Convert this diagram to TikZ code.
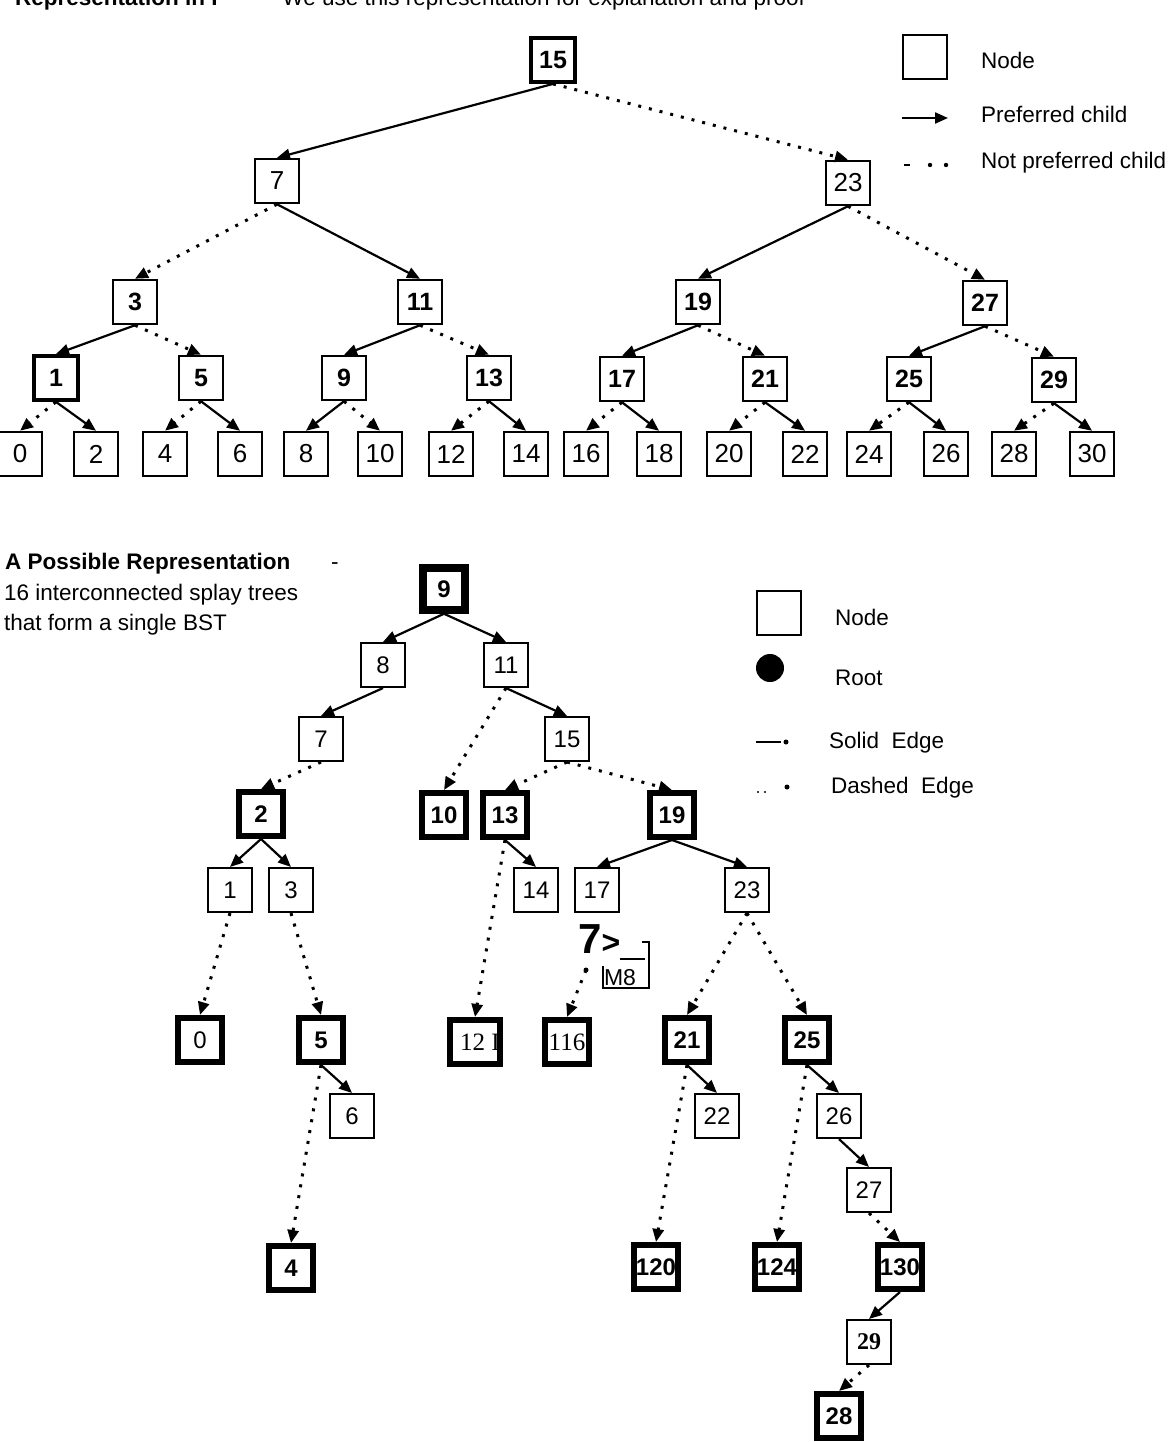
\documentclass[tikz,border=0pt]{standalone}
\usepackage{fontspec}
\setmainfont{Liberation Sans}
\newfontfamily\numserif{Liberation Serif}
\usetikzlibrary{arrows.meta}

\begin{document}
\begin{tikzpicture}
	[x=1pt,y=-1pt,
	every node/.style={inner sep=0pt},
	txt/.style={anchor=base west,font=\fontsize{22.5}{26}\selectfont},
	topnode/.style={draw,line width=2.5pt,minimum size=44pt,font=\fontsize{26}{30}\selectfont},
	topbold/.style={topnode,font=\fontsize{25}{30}\selectfont\bfseries},
	plainnode/.style={draw,line width=1.6pt,minimum size=44.5pt,font=\fontsize{24}{28}\selectfont},
	rootnode/.style={draw,line width=6pt,minimum size=44pt,font=\fontsize{24}{28}\selectfont\bfseries},
	pref/.style={line width=2.2pt,-{Triangle[length=13pt,width=11pt]}},
	npref/.style={line width=3pt,dash pattern=on 3pt off 8pt,-{Triangle[length=13pt,width=11pt]}}]
	\useasboundingbox (0,0) rectangle (1170,1442);

	\node[txt] (head) at (15,6) {\textbf{Representation in P}\hspace{56pt}We use this representation for explanation and proof};

	% top tree
	\node[topbold,line width=3.8pt] (t15) at (553,60) {15};
	\node[topbold,line width=3.8pt] (t1) at (56,378) {1};
	\foreach \n/\x/\y in {7/277/181,23/848/183,0/20/454,2/96/454,4/165/454,6/240/454,8/306/454,10/380/454,12/451/454,14/526/454,16/586/454,18/659/454,20/729/454,22/805/454,24/869/454,26/946/454,28/1014/454,30/1092/454}
		\node[topnode] (t\n) at (\x,\y) {\n};
	\foreach \n/\x/\y in {3/135/302,11/420/302,19/698/302,27/985/303,5/201/378,9/344/378,13/489/378,17/622/379,21/765/379,25/909/379,29/1054/380}
		\node[topbold] (t\n) at (\x,\y) {\n};

	\foreach \a/\b in {15/7,7/11,23/19,3/1,11/9,19/17,27/25,1/2,5/6,9/8,13/14,17/18,21/22,25/26,29/30}
		\draw[pref] (t\a.south) -- (t\b.north);
	\foreach \a/\b in {15/23,7/3,23/27,3/5,11/13,19/21,27/29,1/0,5/4,9/10,13/12,17/16,21/20,25/24,29/28}
		\draw[npref] (t\a.south) -- (t\b.north);

	% top legend
	\node[topnode] (lnode) at (925,57) {};
	\node[txt] (lnodetxt) at (981,69) {Node};
	\coordinate (pa) at (902,118);
	\coordinate (pb) at (948,118);
	\draw[pref] (pa) -- (pb);
	\node[txt] (lpref) at (981,123) {Preferred child};
	\draw[line width=1.5pt] (904,165) -- (910,165);
	\foreach \x in {930,946}
		\fill (\x,165) circle (2.2pt);
	\node[txt] (lnpref) at (981,169) {Not preferred child};

	\node[txt] (btitle) at (5,569) {\textbf{A Possible Representation}};
	\node[txt] (bdash) at (331,569) {-};
	\node[txt] (bline1) at (4,600) {16 interconnected splay trees};
	\node[txt] (bline2) at (4,630) {that form a single BST};

	% bottom tree
	\node[rootnode,line width=7.5pt,minimum size=42pt] (b9) at (444,589) {9};
	\foreach \n/\x/\y in {2/261/814,10/444/815,13/505/815,19/672/815,5/321/1040,21/687/1040,25/807/1040,4/291/1268,28/839/1416}
		\node[rootnode] (b\n) at (\x,\y) {\n};
	\node[rootnode,font=\fontsize{24}{28}\selectfont] (b0) at (200,1040) {0};
	\node[rootnode,font=\fontsize{25}{28}\selectfont\numserif] (b12) at (475,1042) {\hspace*{10pt}12 I};
	\node[rootnode,font=\fontsize{25}{28}\selectfont\numserif] (b16) at (567,1042) {116};
	\foreach \n/\x in {20/656,24/777,30/900}
		\node[rootnode] (b\n) at (\x,1267) {1\n};
	\foreach \n/\x/\y in {8/383/665,11/506/665,7/321/739,15/567/739,1/230/890,3/291/890,14/536/890,17/597/890,23/747/890,6/352/1116,22/717/1116,26/839/1116,27/869/1190}
		\node[plainnode] (b\n) at (\x,\y) {\n};
	\node[plainnode,font=\fontsize{24}{28}\selectfont\numserif\bfseries] (b29) at (869,1342) {29};

	\node[anchor=base west,font=\fontsize{42}{46}\selectfont\bfseries] (art) at (578,953) {7\fontsize{32}{34}\selectfont>};
	\node[anchor=base,font=\fontsize{23}{26}\selectfont] (m8) at (620,985) {M8};
	\draw[line width=1.2pt] (603,966) |- (649,988) |- (642,942);
	\draw[line width=1.5pt] (620,959) -- (645,959);
	\coordinate (m8dot) at (586,970);
	\fill (m8dot) circle (2.5pt);

	\foreach \a/\b in {9/8,9/11,8/7,11/15,2/1,2/3,13/14,19/17,19/23,5/6,21/22,25/26,26/27,30/29}
		\draw[pref] (b\a.south) -- (b\b.north);
	\foreach \a/\b in {11/10,7/2,15/13,15/19,1/0,3/5,13/12,23/21,23/25,5/4,21/20,25/24,27/30,29/28}
		\draw[npref] (b\a.south) -- (b\b.north);
	\draw[npref] (m8dot) -- (b16.north);

	% bottom legend
	\node[plainnode] (lbnode) at (779,613) {};
	\node[txt] (lbnodetxt) at (835,625) {Node};
	\node[circle,fill,minimum size=28pt] (lroot) at (770,668) {};
	\node[txt] (lroottxt) at (835,685) {Root};
	\coordinate (sa) at (756,742);
	\coordinate (sb) at (781,742);
	\draw[line width=1.3pt] (sa) -- (sb);
	\fill (786,742) circle (2.5pt);
	\node[txt] (lsolid) at (829,748) {Solid\ \ Edge};
	\fill (758,792) circle (1.2pt);
	\fill (765,792) circle (1.2pt);
	\fill (787,787) circle (2.5pt);
	\node[txt] (ldashed) at (831,793) {Dashed\ \ Edge};
\end{tikzpicture}
\end{document}
